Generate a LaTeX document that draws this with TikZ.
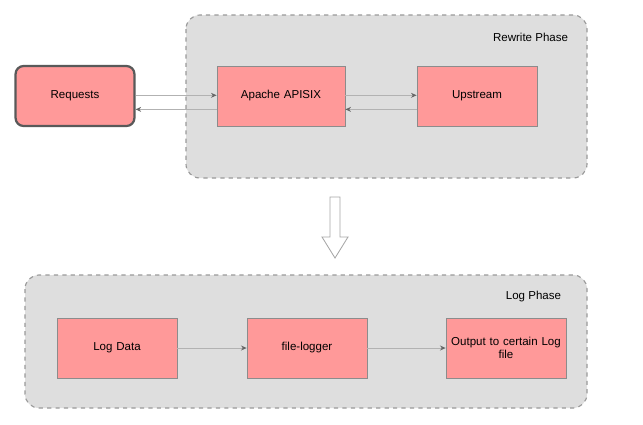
\documentclass[tikz,border=0pt]{standalone}
\usepackage{fontspec}
\setmainfont{Liberation Sans}
\usetikzlibrary{arrows.meta}
\tikzset{
    kasten/.style={draw=black!45, fill=red!40, line width=0.5pt,
        minimum width=3cm, minimum height=1.5cm, align=center,
        inner sep=1pt, text width=2.9cm, font=\fontsize{8.2}{9.5}\selectfont},
    phase/.style={draw=black!40, fill=black!13, dashed, line width=0.8pt,
        rounded corners=0.35cm},
    pfeil/.style={draw=black!30, line width=0.6pt,
        -{Stealth[length=4pt, width=3.5pt, color=black!60]}},
}
\begin{document}
\begin{tikzpicture}[x=0.025cm, y=-0.025cm]
    \useasboundingbox (0,0) rectangle (643,424);

    % Phasen
    \draw[phase] (186,15) rectangle (587,178);
    \node[anchor=east, font=\fontsize{8.2}{9.5}\selectfont] (rw) at (573,37) {Rewrite Phase};
    \draw[phase] (25,275) rectangle (587,408);
    \node[anchor=east, font=\fontsize{8.2}{9.5}\selectfont] (lp) at (566,297) {Log Phase};

    % Kaesten oben
    \node[kasten, rounded corners=0.2cm, draw=black!65, line width=1.6pt,
          minimum width=2.95cm] (req) at (75,96) {Requests};
    \node[kasten, minimum width=3.2cm] (apisix) at (281,96) {Apache APISIX};
    \node[kasten] (up) at (477,96) {Upstream};

    % Kaesten unten
    \node[kasten] (data) at (117,348) {Log Data};
    \node[kasten] (logger) at (307,348) {file-logger};
    \node[kasten] (out) at (506,348) {Output to certain Log\\file};

    % Verbindungen
    \draw[pfeil] ([yshift=0.5pt]req.east) -- ([yshift=0.5pt]apisix.west);
    \draw[pfeil] ([yshift=-9.5pt]apisix.west) -- ([yshift=-9.5pt]req.east);
    \draw[pfeil] ([yshift=0.5pt]apisix.east) -- ([yshift=0.5pt]up.west);
    \draw[pfeil] ([yshift=-9.5pt]up.west) -- ([yshift=-9.5pt]apisix.east);
    \draw[pfeil] (data) -- (logger);
    \draw[pfeil] (logger) -- (out);

    % Hohlpfeil
    \coordinate (ho) at (335,197);
    \coordinate (hu) at (335,258);
    \draw[draw=black!35, fill=white, line width=0.6pt]
        (330,197) -- (340,197) -- (340,237) -- (348,237) -- (hu)
        -- (322,237) -- (330,237) -- cycle;
\end{tikzpicture}
\end{document}
